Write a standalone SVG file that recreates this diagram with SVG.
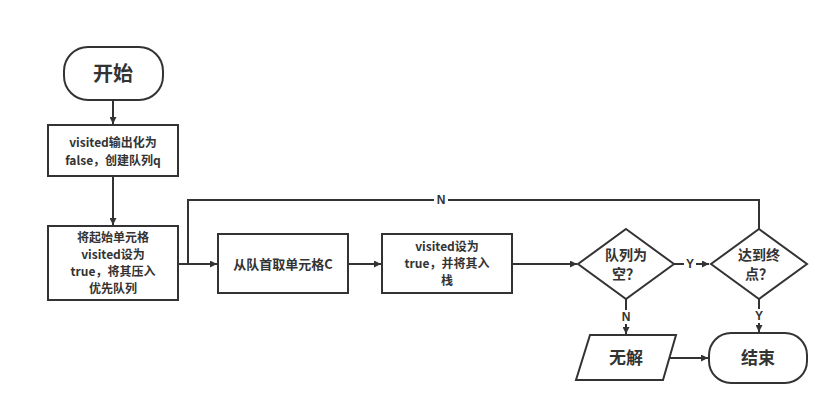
<svg xmlns="http://www.w3.org/2000/svg" width="840" height="414" viewBox="0 0 840 414">
<defs>
<marker id="ah" viewBox="0 0 10 10" refX="10" refY="5" markerWidth="7" markerHeight="7" orient="auto" markerUnits="userSpaceOnUse"><path d="M0,0 L10,5 L0,10 Z" fill="#333"/></marker>
<style>
.s{fill:#fff;stroke:#333;stroke-width:2}
.t{font-family:"Noto Sans CJK SC","Liberation Sans",sans-serif;font-weight:bold;fill:#333;text-anchor:middle}
.c{fill:none;stroke:#333;stroke-width:2}
.a{marker-end:url(#ah)}
.l{font-family:"Liberation Sans",sans-serif;font-weight:bold;font-size:12px;fill:#333;text-anchor:middle}
</style>
</defs>
<rect width="840" height="414" fill="#fff"/>
<g id="connectors">
<path class="c a" d="M113,100 V124"/>
<path class="c a" d="M113,176 V225"/>
<path class="c a" d="M178,264 H217"/>
<path class="c a" d="M348,264 H381"/>
<path class="c a" d="M512,264 H577"/>
<path class="c a" d="M674,264 H709"/>
<path class="c a" d="M626,299 V334"/>
<path class="c a" d="M759,299 V332" stroke-dasharray="4 0"/>
<path class="c a" d="M668,358 H708"/>
<path class="c" d="M759,229 V200 H188 V264"/>
<rect x="434" y="193" width="14" height="14" fill="#fff"/><text class="l" x="441" y="204">N</text>
<rect x="684" y="257" width="12" height="14" fill="#fff"/><text class="l" x="690" y="268">Y</text>
<rect x="619" y="310" width="14" height="14" fill="#fff"/><text class="l" x="626" y="321">N</text>
<rect x="753" y="309" width="12" height="14" fill="#fff"/><text class="l" x="759" y="320">Y</text>
</g>
<g id="start"><rect class="s" x="64" y="47" width="99" height="53" rx="24"/><text class="t" x="113" y="81" font-size="20">开始</text></g>
<g id="init"><rect class="s" x="48" y="125" width="130" height="51"/><text class="t" x="113" y="147" font-size="12">visited输出化为</text><text class="t" x="113" y="165" font-size="12">false，创建队列q</text></g>
<g id="push"><rect class="s" x="48" y="226" width="130" height="74"/><text class="t" x="113" y="242" font-size="12">将起始单元格</text><text class="t" x="113" y="259" font-size="12">visited设为</text><text class="t" x="113" y="276" font-size="12">true，将其压入</text><text class="t" x="113" y="293" font-size="12">优先队列</text></g>
<g id="pop"><rect class="s" x="218" y="234" width="130" height="59"/><text class="t" x="283" y="269" font-size="13">从队首取单元格C</text></g>
<g id="mark"><rect class="s" x="382" y="234" width="130" height="59"/><text class="t" x="447" y="251" font-size="12">visited设为</text><text class="t" x="447" y="268" font-size="12">true，并将其入</text><text class="t" x="447" y="285" font-size="12">栈</text></g>
<g id="empty"><path class="s" d="M626,229 L674,264 L626,299 L578,264 Z"/><text class="t" x="626" y="260" font-size="14">队列为</text><text class="t" x="626" y="279" font-size="14">空？</text></g>
<g id="goal"><path class="s" d="M759,229 L807,264 L759,299 L711,264 Z"/><text class="t" x="759" y="260" font-size="14">达到终</text><text class="t" x="759" y="279" font-size="14">点？</text></g>
<g id="nosol"><path class="s" d="M590,335 L676,335 L663,380 L576,380 Z"/><text class="t" x="626" y="364" font-size="17">无解</text></g>
<g id="end"><rect class="s" x="709" y="333" width="98" height="50" rx="22"/><text class="t" x="758" y="364" font-size="17">结束</text></g>
</svg>
